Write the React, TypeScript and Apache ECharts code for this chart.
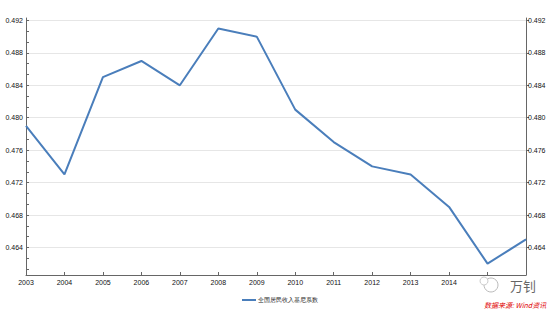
import React, { useEffect, useRef } from "react";
import * as echarts from "echarts";

const years = ["2003", "2004", "2005", "2006", "2007", "2008", "2009", "2010", "2011", "2012", "2013", "2014", "2015", "2016"];
const gini = [0.479, 0.473, 0.485, 0.487, 0.484, 0.491, 0.490, 0.481, 0.477, 0.474, 0.473, 0.469, 0.462, 0.465];
const yLabels = [0.464, 0.468, 0.472, 0.476, 0.48, 0.484, 0.488, 0.492];
const hiddenXLabels = ["2015", "2016"];
const seriesName = "全国居民收入基尼系数";

export default function App() {
  const ref = useRef<HTMLDivElement>(null);
  useEffect(() => {
    document.body.style.margin = "0";
    if (!ref.current) return;
    const chart = echarts.init(ref.current, null, { renderer: "svg" });
    const step = 0.004 / 3;
    const minorTicks: number[] = [];
    for (let i = 0; i < yLabels.length; i++) {
      minorTicks.push(+(yLabels[i]).toFixed(6));
      if (i < yLabels.length - 1) {
        minorTicks.push(+(yLabels[i] + step).toFixed(6));
        minorTicks.push(+(yLabels[i] + 2 * step).toFixed(6));
      }
    }
    minorTicks.unshift(+(yLabels[0] - step).toFixed(6), +(yLabels[0] - 2 * step).toFixed(6));
    const fmt = (v: number) => v.toFixed(3);
    chart.setOption({
      animation: false,
      textStyle: { fontFamily: "Liberation Sans, Arial, sans-serif" },
      grid: { left: 26, right: 28, top: 18, bottom: 37 },
      legend: {
        data: [seriesName],
        left: 237,
        top: 292,
        icon: "rect",
        itemWidth: 14,
        itemHeight: 2,
        itemGap: 4,
        textStyle: { fontSize: 6, color: "#222", padding: [0, 0, 0, -3] },
      },
      xAxis: {
        type: "category",
        data: years,
        boundaryGap: false,
        axisLine: { lineStyle: { color: "#666", width: 1 } },
        axisTick: { show: true, inside: true, length: 3, lineStyle: { color: "#666" } },
        axisLabel: {
          fontSize: 7,
          color: "#111",
          margin: 4,
          interval: 0,
          formatter: (v: string) => (hiddenXLabels.includes(v) ? "" : v),
        },
        splitLine: { show: false },
      },
      yAxis: [
        {
          type: "value",
          min: 0.4606,
          max: 0.4923,
          position: "left",
          axisLine: { show: true, lineStyle: { color: "#666", width: 1 } },
          axisTick: { show: true, inside: true, length: 3, customValues: minorTicks, lineStyle: { color: "#666" } },
          axisLabel: { fontSize: 7, color: "#111", margin: 3, customValues: yLabels, formatter: fmt },
          splitLine: { show: false },
        },
        {
          type: "value",
          min: 0.4606,
          max: 0.4923,
          position: "right",
          axisLine: { show: true, lineStyle: { color: "#666", width: 1 } },
          axisTick: { show: true, inside: false, length: 3, customValues: yLabels, lineStyle: { color: "#666" } },
          axisLabel: { fontSize: 7, color: "#111", margin: 2, customValues: yLabels, formatter: fmt },
          splitLine: { show: true, lineStyle: { color: "#e6e6e6", width: 1 } },
        },
      ],
      series: [
        {
          name: seriesName,
          type: "line",
          data: gini,
          yAxisIndex: 0,
          showSymbol: false,
          symbol: "none",
          lineStyle: { color: "#4a7ebb", width: 2 },
          itemStyle: { color: "#4a7ebb" },
        },
      ],
      graphic: [
        { type: "circle", shape: { cx: 491, cy: 285, r: 7 }, style: { fill: "#fff", stroke: "#bbb", lineWidth: 1 } },
        { type: "circle", shape: { cx: 484, cy: 281, r: 4 }, style: { fill: "#fff", stroke: "#ccc", lineWidth: 1 } },
        { type: "text", left: 510, top: 279, style: { text: "万钊", fontSize: 13, fill: "#666", fontFamily: "Noto Sans CJK SC" } },
        { type: "text", left: 484, top: 301, style: { text: "数据来源: Wind资讯", fontSize: 7, fill: "#e00000", fontStyle: "italic", fontFamily: "Noto Sans CJK SC" } },
      ],
    });
    return () => chart.dispose();
  }, []);
  return <div ref={ref} style={{ width: 554, height: 312 }} />;
}
